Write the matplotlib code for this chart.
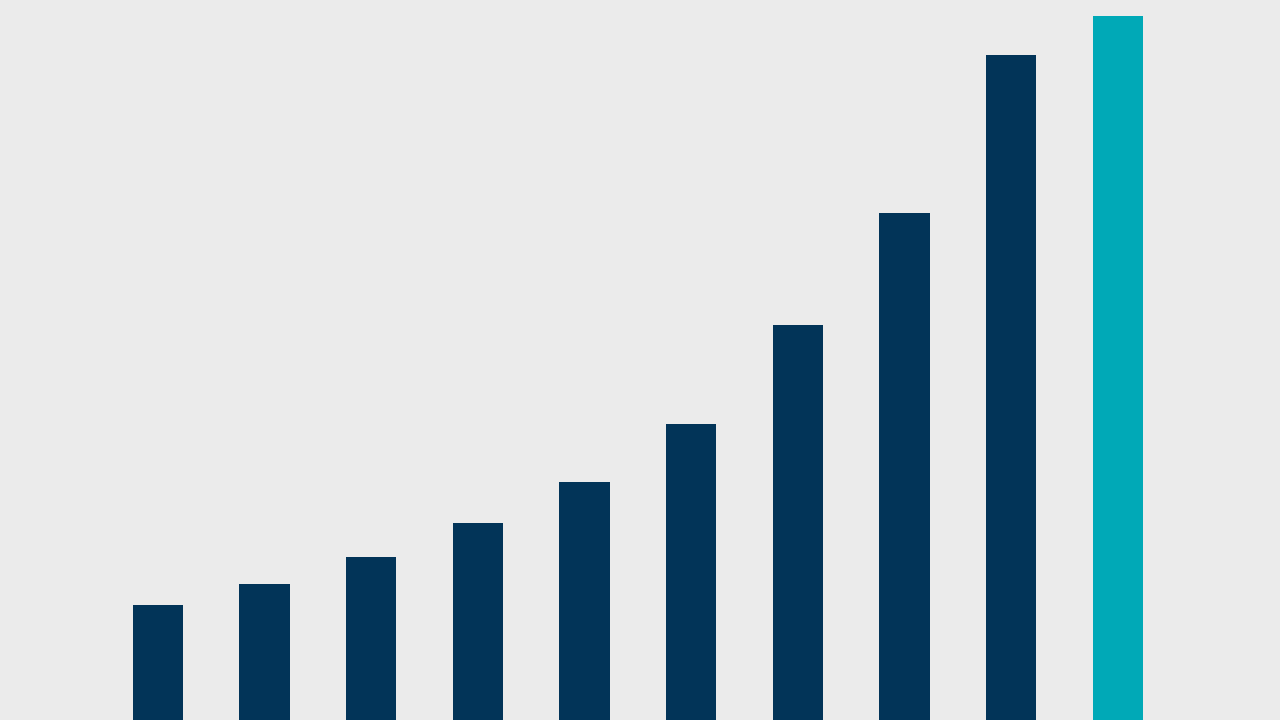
import matplotlib
matplotlib.use('Agg')
import matplotlib.pyplot as plt

# bar heights (pixel units from the bottom edge)
positions = [0, 1, 2, 3, 4, 5, 6, 7, 8, 9]
values = [115, 136, 163, 197, 238, 296, 395, 507, 665, 704]
colors = ['#023458'] * 9 + ['#00a9b7']

fig = plt.figure(figsize=(12.8, 7.2), dpi=100)
fig.patch.set_facecolor('#ebebeb')
ax = fig.add_axes([0, 0, 1, 1])
ax.set_facecolor('#ebebeb')
ax.bar(positions, values, width=0.47, color=colors)
ax.set_xlim(-1.48, 10.52)
ax.set_ylim(0, 720)
ax.axis('off')

fig.savefig('out.png', dpi=100, facecolor=fig.get_facecolor())
